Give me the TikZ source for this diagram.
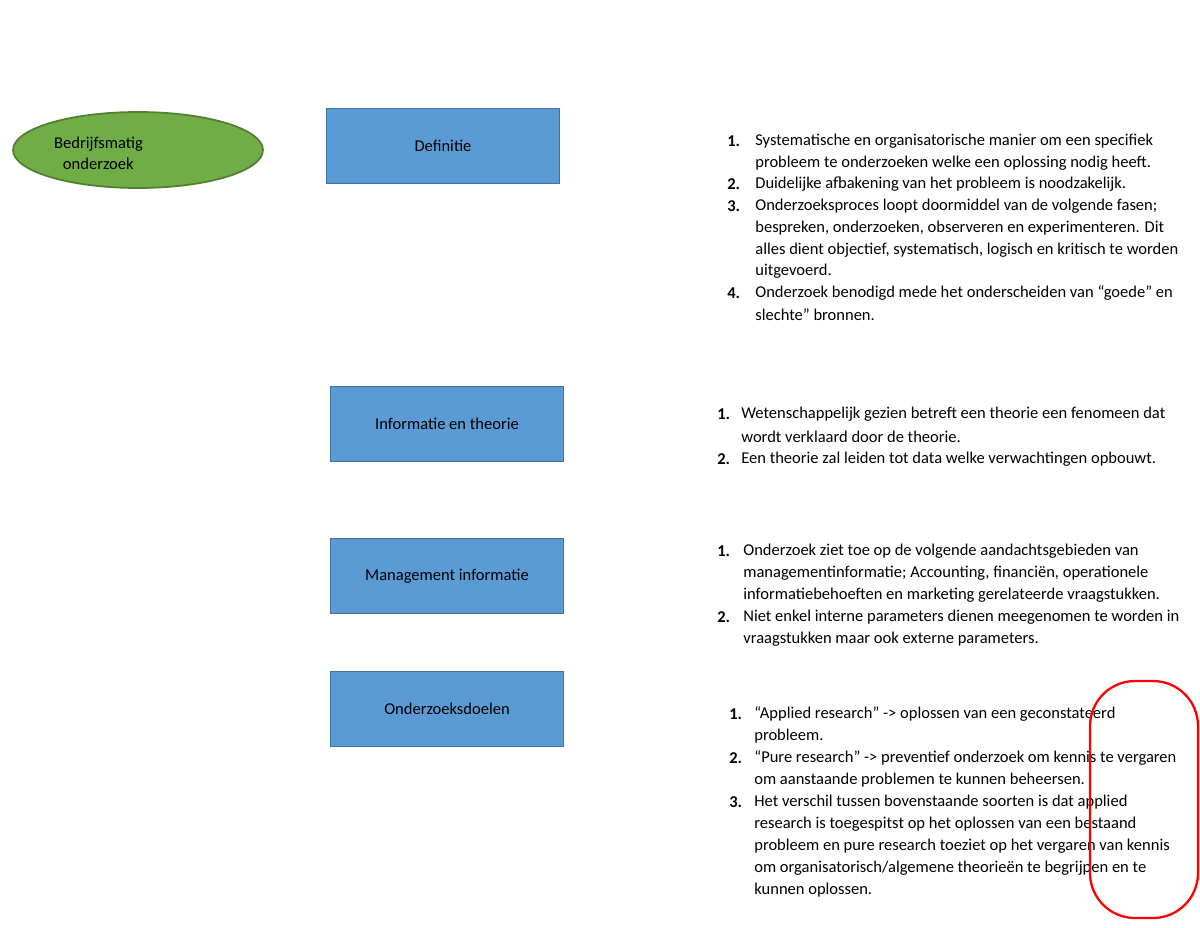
\documentclass[tikz,border=0pt]{standalone}
\usepackage{fontspec}
\setmainfont{Carlito}
\usetikzlibrary{shapes.geometric}
\begin{document}
\begin{tikzpicture}[x=0.02cm,y=-0.02cm,
 box/.style={draw=blb, fill=bl, line width=1pt, minimum width=4.66cm, minimum height=1.5cm, font=\fontsize{9.4}{12}\selectfont},
 ln/.style={anchor=west, inner sep=0, font=\fontsize{9.4}{12}\selectfont},
 nm/.style={anchor=west, inner sep=0, font=\fontsize{9.4}{12}\selectfont\bfseries}]
\definecolor{bl}{HTML}{5B9BD5}\definecolor{blb}{HTML}{41719C}
\definecolor{gr}{HTML}{70AD47}\definecolor{grb}{HTML}{507E32}
\useasboundingbox (0,0) rectangle (1200,927);
\node[ellipse, draw=grb, fill=gr, line width=1pt, minimum width=5cm, minimum height=1.52cm] (e) at (138,150) {};
\node[anchor=west, align=left, font=\fontsize{9.4}{12}\selectfont] (et) at (48,153) {Bedrijfsmatig\\\hspace{5pt}onderzoek};
\node[box] (b1) at (443,146) {Definitie};
\node[box] (b2) at (447,424) {Informatie en theorie};
\node[box] (b3) at (447,576) {Management informatie};
\node[box] (b4) at (447,709) {Onderzoeksdoelen};
% block 1
\foreach \n/\y in {1./141,2./184,3./206,4./293} \node[nm] (n1\y) at (727,\y) {\n};
\node[ln] (t11) at (755,141) {Systematische en organisatorische manier om een specifiek};
\node[ln] (t12) at (755,163) {probleem te onderzoeken welke een oplossing nodig heeft.};
\node[ln] (t13) at (755,184) {Duidelijke afbakening van het probleem is noodzakelijk.};
\node[ln] (t14) at (755,206) {Onderzoeksproces loopt doormiddel van de volgende fasen;};
\node[ln] (t15) at (755,228) {bespreken, onderzoeken, observeren en experimenteren. Dit};
\node[ln] (t16) at (755,250) {alles dient objectief, systematisch, logisch en kritisch te worden};
\node[ln] (t17) at (755,271) {uitgevoerd.};
\node[ln] (t18) at (755,293) {Onderzoek benodigd mede het onderscheiden van “goede” en};
\node[ln] (t19) at (755,315) {slechte” bronnen.};
% block 2
\node[nm] (n21) at (717,414) {1.};
\node[nm] (n22) at (717,459) {2.};
\node[ln] (t21) at (741,414) {Wetenschappelijk gezien betreft een theorie een fenomeen dat};
\node[ln] (t22) at (741,437) {wordt verklaard door de theorie.};
\node[ln] (t23) at (741,459) {Een theorie zal leiden tot data welke verwachtingen opbouwt.};
% block 3
\node[nm] (n31) at (717,551) {1.};
\node[nm] (n32) at (717,617) {2.};
\node[ln] (t31) at (743,551) {Onderzoek ziet toe op de volgende aandachtsgebieden van};
\node[ln] (t32) at (743,573) {managementinformatie; Accounting, financiën, operationele};
\node[ln] (t33) at (743,595) {informatiebehoeften en marketing gerelateerde vraagstukken.};
\node[ln] (t34) at (743,617) {Niet enkel interne parameters dienen meegenomen te worden in};
\node[ln] (t35) at (743,639) {vraagstukken maar ook externe parameters.};
% block 4
\node[nm] (n41) at (729,714) {1.};
\node[nm] (n42) at (729,758) {2.};
\node[nm] (n43) at (729,802) {3.};
\node[ln] (t41) at (754,714) {“Applied research” -> oplossen van een geconstateerd};
\node[ln] (t42) at (754,736) {probleem.};
\node[ln] (t43) at (754,758) {“Pure research” -> preventief onderzoek om kennis te vergaren};
\node[ln] (t44) at (754,780) {om aanstaande problemen te kunnen beheersen.};
\node[ln] (t45) at (754,802) {Het verschil tussen bovenstaande soorten is dat applied};
\node[ln] (t46) at (754,824) {research is toegespitst op het oplossen van een bestaand};
\node[ln] (t47) at (754,846) {probleem en pure research toeziet op het vergaren van kennis};
\node[ln] (t48) at (754,868) {om organisatorisch/algemene theorieën te begrijpen en te};
\node[ln] (t49) at (754,890) {kunnen oplossen.};
\draw[red, line width=1.3pt, rounded corners=0.9cm] (1090,681) rectangle (1198,918);
\end{tikzpicture}
\end{document}
